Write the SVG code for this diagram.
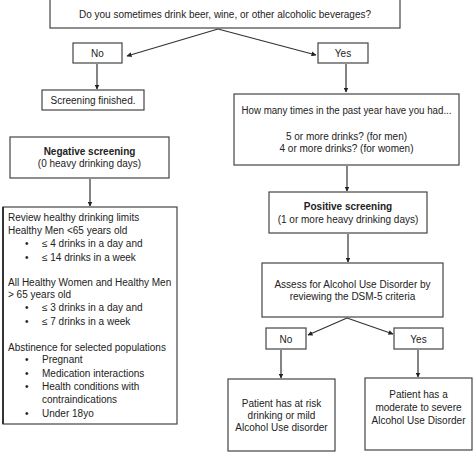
<svg xmlns="http://www.w3.org/2000/svg" width="474" height="452" viewBox="0 0 474 452">
<defs>
<marker id="ah" viewBox="0 0 10 10" refX="9" refY="5" markerWidth="5" markerHeight="5" orient="auto" markerUnits="userSpaceOnUse">
<path d="M0,0 L10,5 L0,10 z" fill="#222"/>
</marker>
</defs>
<style>
.b{fill:#fff;stroke:#444;stroke-width:1.2}
.t{font-family:"Liberation Sans",Arial,sans-serif;font-size:10px;fill:#222}
.c{text-anchor:middle}
.bd{font-weight:bold}
.e{stroke:#333;stroke-width:1.2;fill:none;marker-end:url(#ah)}
</style>
<rect width="474" height="452" fill="#fff"/>
<g id="connectors">
<line class="e" x1="218" y1="29" x2="127" y2="56"/>
<line class="e" x1="218" y1="29" x2="316" y2="55"/>
<line class="e" x1="97" y1="64" x2="97" y2="89"/>
<line class="e" x1="346" y1="64" x2="346" y2="92"/>
<line class="e" x1="90" y1="179" x2="90" y2="206"/>
<line class="e" x1="347" y1="166" x2="347" y2="191"/>
<line class="e" x1="348" y1="234" x2="348" y2="262"/>
<line class="e" x1="347" y1="318" x2="308" y2="335"/>
<line class="e" x1="347" y1="318" x2="393" y2="334"/>
<line class="e" x1="281" y1="350" x2="281" y2="378"/>
<line class="e" x1="418" y1="350" x2="418" y2="377"/>
</g>
<g id="q1">
<rect class="b" x="50" y="-1" width="350" height="29"/>
<text class="t c" x="225" y="18" textLength="292" lengthAdjust="spacingAndGlyphs">Do you sometimes drink beer, wine, or other alcoholic beverages?</text>
</g>
<g id="no1">
<rect class="b" x="73" y="43" width="49" height="20"/>
<text class="t c" x="97.5" y="57">No</text>
</g>
<g id="yes1">
<rect class="b" x="318" y="43" width="50" height="20"/>
<text class="t c" x="343" y="57">Yes</text>
</g>
<g id="finished">
<rect class="b" x="42" y="90" width="102" height="20"/>
<text class="t c" x="93" y="104">Screening finished.</text>
</g>
<g id="q2">
<rect class="b" x="234" y="94" width="225" height="71"/>
<text class="t c" x="346.5" y="114" textLength="210" lengthAdjust="spacingAndGlyphs">How many times in the past year have you had...</text>
<text class="t c" x="346.5" y="140">5 or more drinks? (for men)</text>
<text class="t c" x="346.5" y="152">4 or more drinks? (for women)</text>
</g>
<g id="negative">
<rect class="b" x="10" y="137" width="159" height="41"/>
<text class="t c bd" x="89.5" y="155">Negative screening</text>
<text class="t c" x="89.5" y="167">(0 heavy drinking days)</text>
</g>
<g id="limits">
<rect class="b" x="3" y="207" width="174" height="217"/>
<line x1="3" y1="207" x2="3" y2="424" stroke="#333" stroke-width="2"/>
<text class="t" x="8" y="221">Review healthy drinking limits</text>
<text class="t" x="8" y="234">Healthy Men &lt;65 years old</text>
<text class="t" x="25" y="247">•</text><text class="t" x="42" y="247">≤ 4 drinks in a day and</text>
<text class="t" x="25" y="261">•</text><text class="t" x="42" y="261">≤ 14 drinks in a week</text>
<text class="t" x="8" y="286">All Healthy Women and Healthy Men</text>
<text class="t" x="8" y="298">&gt; 65 years old</text>
<text class="t" x="25" y="311">•</text><text class="t" x="42" y="311">≤ 3 drinks in a day and</text>
<text class="t" x="25" y="325">•</text><text class="t" x="42" y="325">≤ 7 drinks in a week</text>
<text class="t" x="8" y="351">Abstinence for selected populations</text>
<text class="t" x="25" y="363">•</text><text class="t" x="42" y="363">Pregnant</text>
<text class="t" x="25" y="377">•</text><text class="t" x="42" y="377">Medication interactions</text>
<text class="t" x="25" y="390">•</text><text class="t" x="42" y="390">Health conditions with</text>
<text class="t" x="42" y="403">contraindications</text>
<text class="t" x="25" y="417">•</text><text class="t" x="42" y="417">Under 18yo</text>
</g>
<g id="positive">
<rect class="b" x="269" y="192" width="158" height="41"/>
<text class="t c bd" x="348" y="210">Positive screening</text>
<text class="t c" x="348" y="223">(1 or more heavy drinking days)</text>
</g>
<g id="assess">
<rect class="b" x="262" y="263" width="181" height="54"/>
<text class="t c" x="352.5" y="288">Assess for Alcohol Use Disorder by</text>
<text class="t c" x="352.5" y="300">reviewing the DSM-5 criteria</text>
</g>
<g id="no2">
<rect class="b" x="266" y="328" width="40" height="21"/>
<text class="t c" x="286" y="343">No</text>
</g>
<g id="yes2">
<rect class="b" x="394" y="328" width="49" height="21"/>
<text class="t c" x="418.5" y="343">Yes</text>
</g>
<g id="mild">
<rect class="b" x="228" y="379" width="107" height="72"/>
<text class="t c" x="281.5" y="407">Patient has at risk</text>
<text class="t c" x="281.5" y="419">drinking or mild</text>
<text class="t c" x="281.5" y="431">Alcohol Use disorder</text>
</g>
<g id="severe">
<rect class="b" x="365" y="378" width="107" height="72"/>
<text class="t c" x="418.5" y="398">Patient has a</text>
<text class="t c" x="418.5" y="411">moderate to severe</text>
<text class="t c" x="418.5" y="424">Alcohol Use Disorder</text>
</g>
</svg>
